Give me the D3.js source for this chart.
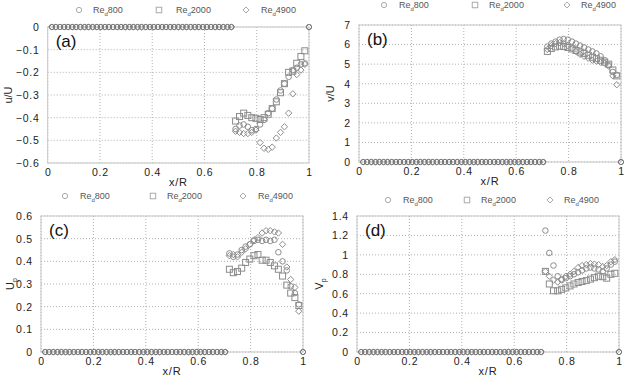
<!DOCTYPE html>
<html>
<head>
<meta charset="utf-8">
<script src="https://cdn.jsdelivr.net/npm/d3@7"></script>
<style>
  body { margin: 0; background: #fff; }
  svg { display: block; font-family: "Liberation Sans", "DejaVu Sans", sans-serif; }
</style>
</head>
<body>
<svg id="chart" width="624" height="378"></svg>
<script>
// Reynolds numbers (legend)
const reNames = ["800", "2000", "4900"];

// x/R positions inside the body (values are zero there)
const zeroX = [0.016, 0.031, 0.047, 0.063, 0.078, 0.094, 0.109, 0.125, 0.141, 0.156,
  0.172, 0.188, 0.203, 0.219, 0.234, 0.25, 0.266, 0.281, 0.297, 0.313,
  0.328, 0.344, 0.359, 0.375, 0.391, 0.406, 0.422, 0.438, 0.453, 0.469,
  0.484, 0.5, 0.516, 0.531, 0.547, 0.563, 0.578, 0.594, 0.609, 0.625,
  0.641, 0.656, 0.672, 0.688, 0.703, 1.0];
// x/R positions in the gap
const gapX = [0.719, 0.734, 0.75, 0.766, 0.781, 0.797, 0.813, 0.828, 0.844,
  0.859, 0.875, 0.891, 0.906, 0.922, 0.938, 0.953, 0.969, 0.984];

// (a) u/U
const uRe800  = [-0.45, -0.435, -0.43, -0.44, -0.455, -0.45, -0.43, -0.41, -0.38, -0.36, -0.32, -0.28, -0.25, -0.22, -0.19, -0.18, -0.165, -0.16];
const uRe2000 = [-0.415, -0.395, -0.38, -0.39, -0.40, -0.403, -0.408, -0.40, -0.385, -0.36, -0.33, -0.29, -0.25, -0.2, -0.195, -0.16, -0.13, -0.105];
const uRe4900 = [-0.46, -0.465, -0.47, -0.47, -0.465, -0.455, -0.51, -0.535, -0.54, -0.53, -0.49, -0.465, -0.44, -0.38, -0.295, -0.21, -0.19, -0.165];
// (b) v/U
const vRe800  = [5.9, 6.05, 6.15, 6.25, 6.28, 6.25, 6.15, 6.05, 5.95, 5.85, 5.75, 5.65, 5.55, 5.4, 5.2, 4.95, 4.6, 4.45];
const vRe2000 = [5.65, 5.8, 5.88, 5.92, 5.9, 5.85, 5.78, 5.7, 5.62, 5.55, 5.45, 5.35, 5.28, 5.2, 5.1, 5.0, 4.7, 4.4];
const vRe4900 = [5.75, 5.95, 6.05, 6.1, 6.05, 5.95, 5.8, 5.65, 5.5, 5.4, 5.3, 5.2, 5.15, 5.1, 5.05, 4.9, 4.4, 3.95];
// (c) Up
const upRe800  = [0.435, 0.42, 0.43, 0.45, 0.465, 0.475, 0.49, 0.495, 0.49, 0.495, 0.49, 0.495, 0.44, 0.40, 0.36, 0.29, 0.26, 0.21];
const upRe2000 = [0.365, 0.35, 0.355, 0.37, 0.395, 0.41, 0.425, 0.43, 0.405, 0.405, 0.395, 0.38, 0.365, 0.335, 0.295, 0.26, 0.24, 0.205];
const upRe4900 = [0.425, 0.43, 0.42, 0.44, 0.455, 0.475, 0.495, 0.505, 0.525, 0.535, 0.535, 0.53, 0.525, 0.475, 0.375, 0.32, 0.285, 0.18];
// (d) Vp
const vpRe800  = [1.25, 1.02, 0.89, 0.78, 0.74, 0.76, 0.78, 0.80, 0.82, 0.84, 0.86, 0.87, 0.86, 0.85, 0.83, 0.86, 0.9, 0.93];
const vpRe2000 = [0.83, 0.70, 0.63, 0.63, 0.645, 0.66, 0.68, 0.70, 0.715, 0.725, 0.735, 0.75, 0.765, 0.78, 0.775, 0.76, 0.8, 0.81];
const vpRe4900 = [0.83, 0.78, 0.74, 0.72, 0.75, 0.78, 0.80, 0.83, 0.87, 0.89, 0.9, 0.91, 0.905, 0.9, 0.88, 0.89, 0.93, 0.95];

const xTicks = [0, 0.2, 0.4, 0.6, 0.8, 1];
const uTicks = [0, -0.1, -0.2, -0.3, -0.4, -0.5, -0.6];
const vTicks = [0, 1, 2, 3, 4, 5, 6, 7];
const upTicks = [0, 0.1, 0.2, 0.3, 0.4, 0.5, 0.6];
const vpTicks = [0, 0.2, 0.4, 0.6, 0.8, 1, 1.2, 1.4];

const panels = [
  { tag: "(a)", left: 47.7, right: 309, top: 27, bottom: 163, domain: [-0.6, 0], ticks: uTicks,
    ylab: ["u/U", ""], ylabX: 8, legY: 10, legMark: [79, 159, 246], legText: [93, 176, 261],
    data: [uRe800, uRe2000, uRe4900] },
  { tag: "(b)", left: 359, right: 621, top: 25, bottom: 162, domain: [0, 7], ticks: vTicks,
    ylab: ["v/U", ""], ylabX: 330, legY: 5, legMark: [384, 475, 567], legText: [399, 489, 581],
    data: [vRe800, vRe2000, vRe4900] },
  { tag: "(c)", left: 41, right: 303, top: 216, bottom: 352, domain: [0, 0.6], ticks: upTicks,
    ylab: ["U", "p"], ylabX: 10, legY: 196, legMark: [65, 153, 243], legText: [80, 167, 258],
    data: [upRe800, upRe2000, upRe4900] },
  { tag: "(d)", left: 357, right: 619, top: 216, bottom: 352, domain: [0, 1.4], ticks: vpTicks,
    ylab: ["V", "p"], ylabX: 319, legY: 200, legMark: [388, 467, 550], legText: [403, 481, 564],
    data: [vpRe800, vpRe2000, vpRe4900] }
];

const svg = d3.select("#chart");
const markColor = "#8c8c8c";

function marker(g, kind, x, y, size, color) {
  if (kind === 0) {
    g.append("circle").attr("cx", x).attr("cy", y).attr("r", size * 0.48)
      .attr("fill", "none").attr("stroke", color);
  } else if (kind === 1) {
    g.append("rect").attr("x", x - size / 2).attr("y", y - size / 2)
      .attr("width", size).attr("height", size)
      .attr("fill", "none").attr("stroke", color);
  } else {
    const s = size * 0.55;
    g.append("path").attr("d", `M${x},${y - s}L${x + s},${y}L${x},${y + s}L${x - s},${y}Z`)
      .attr("fill", "none").attr("stroke", color);
  }
}

panels.forEach(p => {
  const g = svg.append("g");
  const x = d3.scaleLinear().domain([0, 1]).range([p.left, p.right]);
  const y = d3.scaleLinear().domain(p.domain).range([p.bottom, p.top]);

  // grid
  g.selectAll(".gx").data(xTicks).enter().append("line")
    .attr("x1", d => x(d)).attr("x2", d => x(d))
    .attr("y1", p.top).attr("y2", p.bottom)
    .attr("stroke", "#b0b0b0").attr("stroke-dasharray", "1,2");
  g.selectAll(".gy").data(p.ticks).enter().append("line")
    .attr("y1", d => y(d)).attr("y2", d => y(d))
    .attr("x1", p.left).attr("x2", p.right)
    .attr("stroke", "#b0b0b0").attr("stroke-dasharray", "1,2");
  g.append("rect").attr("x", p.left).attr("y", p.top)
    .attr("width", p.right - p.left).attr("height", p.bottom - p.top)
    .attr("fill", "none").attr("stroke", "#c8c8c8");

  // axes (labels only)
  const ax = g.append("g").attr("transform", `translate(0,${p.bottom + 3})`)
    .call(d3.axisBottom(x).tickValues(xTicks).tickSize(0).tickFormat(d3.format("")));
  const ay = g.append("g").attr("transform", `translate(${p.left - 5},0)`)
    .call(d3.axisLeft(y).tickValues(p.ticks).tickSize(0).tickFormat(d3.format("")));
  [ax, ay].forEach(a => {
    a.select(".domain").remove();
    a.selectAll("text").attr("font-size", 10.5).attr("fill", "#222")
      .attr("letter-spacing", "0.8px").attr("font-family", "Liberation Sans, sans-serif");
  });

  g.append("text").attr("x", (p.left + p.right) / 2).attr("y", p.bottom + 23)
    .attr("text-anchor", "middle").attr("font-size", 11).attr("fill", "#222")
    .attr("letter-spacing", "0.8px").text("x/R");

  const yl = g.append("text")
    .attr("transform", `translate(${p.ylabX},${(p.top + p.bottom) / 2}) rotate(-90)`)
    .attr("text-anchor", "middle").attr("dy", "0.35em")
    .attr("font-size", 11).attr("fill", "#222").text(p.ylab[0]);
  if (p.ylab[1]) yl.append("tspan").attr("font-size", 7).attr("dy", 3).text(p.ylab[1]);

  g.append("text").attr("x", p.left + 8).attr("y", p.top + 20)
    .attr("font-size", 17).attr("fill", "#111").text(p.tag);

  // points
  const pts = g.append("g");
  p.data.forEach((vals, k) => {
    if (k !== 1) zeroX.forEach(xv => marker(pts, k, x(xv), y(0), 5.5, "#7a7a7a"));
    gapX.forEach((xv, i) => marker(pts, k, x(xv), y(vals[i]), k === 1 ? 6 : 5.8, markColor));
  });

  // legend
  reNames.forEach((r, k) => {
    marker(g, k, p.legMark[k], p.legY, 5.5, "#aaa");
    const t = g.append("text").attr("x", p.legText[k]).attr("y", p.legY).attr("dy", "0.35em")
      .attr("font-size", 9).attr("fill", "#555").text("Re");
    t.append("tspan").attr("font-size", 6).attr("dy", 3).text("d");
    t.append("tspan").attr("dy", -3).text(r);
  });
});
</script>
</body>
</html>
